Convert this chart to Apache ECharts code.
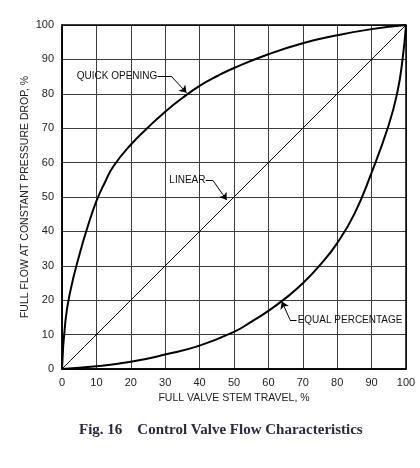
<!DOCTYPE html>
<html>
<head>
<meta charset="utf-8">
<script src="https://cdn.jsdelivr.net/npm/echarts@6/dist/echarts.min.js"></script>
<style>
  html, body { margin: 0; padding: 0; background: #fff; }
  #chart { width: 420px; height: 468px; }
</style>
</head>
<body>
<div id="chart"></div>
<script>
// values (x = valve stem travel %, y = flow %)
const quickX = [0, 1, 2.5, 5, 7.5, 10, 12.5, 15, 20, 25, 30, 35, 40, 45, 50, 60, 70, 80, 90, 100];
const quickY = [0, 14, 23, 33, 41.5, 48.8, 54.3, 59, 65.2, 70.2, 74.8, 78.8, 82.3, 85.1, 87.5, 91.5, 94.7, 97, 98.8, 100];

const linearX = [0, 100];
const linearY = [0, 100];

const equalX = [0, 10, 20, 30, 40, 50, 55, 60, 65, 70, 75, 80, 85, 90, 95, 97.5, 99, 100];
const equalY = [0, 0.8, 2.1, 4.2, 6.8, 10.8, 13.7, 16.9, 20.6, 24.9, 30.2, 36.6, 45.1, 57.1, 71, 80.5, 90, 100];

// callouts: text anchor, start of leader, elbow, arrow tip (data coords)
const quickNote = { text: "QUICK OPENING", at: [4.3, 85.2], from: [27.8, 85.2], elbow: [31.7, 85.2], tip: [36.2, 80.3] };
const linearNote = { text: "LINEAR", at: [31.2, 54.9], from: [41.8, 54.9], elbow: [43.8, 54.9], tip: [47.9, 49.1] };
const equalNote = { text: "EQUAL PERCENTAGE", at: [68.5, 14.3], from: [68.2, 14.3], elbow: [66.3, 14.3], tip: [63.9, 19.6] };

function pairs(xs, ys) {
  return xs.map((x, i) => [x, ys[i]]);
}

function callout(note) {
  return {
    markPoint: {
      silent: true,
      symbol: "circle",
      symbolSize: 0,
      data: [{ coord: note.at }],
      label: {
        show: true,
        position: "right",
        distance: 0,
        formatter: note.text,
        color: "#111",
        fontFamily: "Liberation Sans",
        fontSize: 10,
      },
    },
    markLine: {
      silent: true,
      symbol: ["none", "none"],
      lineStyle: { type: "solid", color: "#000", width: 1 },
      label: { show: false },
      data: [
        [{ coord: note.from, symbol: "none" }, { coord: note.elbow, symbol: "none" }],
        [{ coord: note.elbow, symbol: "none" }, { coord: note.tip, symbol: "arrow", symbolSize: 7 }],
      ],
    },
  };
}

function curve(name, xs, ys, width, note) {
  return Object.assign({
    name,
    type: "line",
    data: pairs(xs, ys),
    smooth: true,
    symbol: "none",
    lineStyle: { color: "#000", width },
  }, callout(note));
}

function labelFont(size) {
  return { color: "#222", fontFamily: "Liberation Sans", fontSize: size };
}

const chart = echarts.init(document.getElementById("chart"));

chart.setOption({
  animation: false,
  backgroundColor: "#fff",
  title: {
    text: "Fig. 16    Control Valve Flow Characteristics",
    left: 74,
    top: 418,
    textStyle: { fontFamily: "Liberation Serif", fontWeight: "bold", fontSize: 15, color: "#2b2840" },
  },
  grid: { left: 62, right: 14, top: 25, bottom: 99 },
  xAxis: {
    type: "value",
    min: 0,
    max: 100,
    interval: 10,
    name: "FULL VALVE STEM TRAVEL, %",
    nameLocation: "middle",
    nameGap: 23,
    nameTextStyle: labelFont(10.5),
    axisLine: { show: true, lineStyle: { color: "#000", width: 1.5 } },
    axisTick: { show: false },
    axisLabel: Object.assign({ margin: 8 }, labelFont(11)),
    splitLine: { show: true, lineStyle: { color: "#3c3c3c", width: 1 } },
  },
  yAxis: {
    type: "value",
    min: 0,
    max: 100,
    interval: 10,
    name: "FULL FLOW AT CONSTANT PRESSURE DROP, %",
    nameLocation: "middle",
    nameGap: 31,
    nameMoveOverlap: false,
    nameTextStyle: labelFont(10.5),
    axisLine: { show: true, lineStyle: { color: "#000", width: 1.5 } },
    axisTick: { show: false },
    axisLabel: Object.assign({ margin: 8 }, labelFont(11)),
    splitLine: { show: true, lineStyle: { color: "#3c3c3c", width: 1 } },
  },
  series: [
    curve("Quick opening", quickX, quickY, 2, quickNote),
    curve("Linear", linearX, linearY, 1, linearNote),
    curve("Equal percentage", equalX, equalY, 2, equalNote),
  ],
  // close the top and right sides of the plot frame
  graphic: [{
    type: "rect",
    silent: true,
    shape: { x: 62, y: 25, width: 344, height: 344 },
    style: { fill: "none", stroke: "#000", lineWidth: 1.5 },
    z: 100,
  }],
});
</script>
</body>
</html>
